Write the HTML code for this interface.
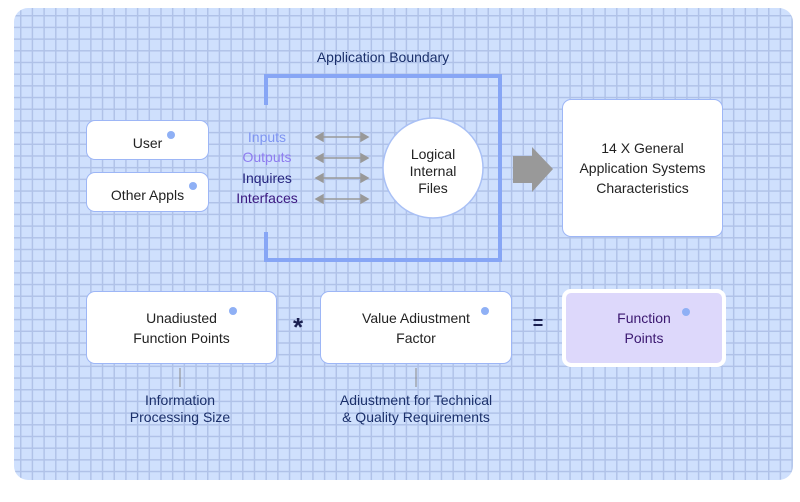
<!DOCTYPE html>
<html><head><meta charset="utf-8"><style>
body{margin:0;width:800px;height:502px;background:#fff;position:relative;overflow:hidden;font-family:"Liberation Sans",sans-serif}
.panel{position:absolute;left:14px;top:8px;width:779px;height:472px;border-radius:14px;background-color:#cfe0fd;
background-image:linear-gradient(#b0c2e8 1.5px,transparent 1.5px),linear-gradient(90deg,#b0c2e8 1.5px,transparent 1.5px);
background-size:11.7px 11.7px;background-position:6px 7px}
.box{position:absolute;background:#fff;border:1.5px solid #9db6f6;border-radius:9px;box-sizing:border-box;display:flex;align-items:center;justify-content:center;text-align:center;font-size:14px;color:#222;line-height:20px}
.dot{position:absolute;width:8px;height:8px;border-radius:50%;background:#8fb0f5}
.t{position:absolute;font-size:14px;white-space:nowrap;text-align:center}
</style></head><body>
<div class="panel"></div>
<svg width="800" height="502" style="position:absolute;left:0;top:0">
<path d="M266,105 V76 H500 V260 H266 V232" fill="none" stroke="#87a6f5" stroke-width="4"/>
<g stroke="#999" stroke-width="1.5" fill="#999">
<line x1="320" y1="137" x2="364" y2="137"/><path d="M316,137 l7,-4 v8z M368,137 l-7,-4 v8z"/>
<line x1="320" y1="158" x2="364" y2="158"/><path d="M316,158 l7,-4 v8z M368,158 l-7,-4 v8z"/>
<line x1="320" y1="178" x2="364" y2="178"/><path d="M316,178 l7,-4 v8z M368,178 l-7,-4 v8z"/>
<line x1="320" y1="199" x2="364" y2="199"/><path d="M316,199 l7,-4 v8z M368,199 l-7,-4 v8z"/>
</g>
<circle cx="433" cy="168" r="50" fill="#fff" stroke="#a9c0f5" stroke-width="1.5"/>
<path d="M513,156 H532 V147 L553,169 L532,192 V183 H513Z" fill="#999"/>
<line x1="180" y1="368" x2="180" y2="387" stroke="#888" stroke-width="1"/>
<line x1="416" y1="368" x2="416" y2="387" stroke="#888" stroke-width="1"/>
</svg>
<div class="t" style="left:283px;top:49px;width:200px;color:#1a2f6a">Application Boundary</div>
<div class="box" style="left:86px;top:120px;width:123px;height:40px;padding-top:5px">User</div><div class="dot" style="left:167px;top:131px"></div>
<div class="box" style="left:86px;top:172px;width:123px;height:40px;padding-top:5px">Other Appls</div><div class="dot" style="left:189px;top:182px"></div>
<div class="t" style="left:217px;top:129px;width:100px;color:#7f95f2">Inputs</div>
<div class="t" style="left:217px;top:149px;width:100px;color:#8e7cf0">Outputs</div>
<div class="t" style="left:217px;top:170px;width:100px;color:#25247e">Inquires</div>
<div class="t" style="left:217px;top:190px;width:100px;color:#3b1880">Interfaces</div>
<div class="t" style="left:383px;top:146px;width:100px;color:#222;line-height:17px">Logical<br>Internal<br>Files</div>
<div class="box" style="left:562px;top:99px;width:161px;height:138px">14 X General<br>Application Systems<br>Characteristics</div>
<div class="box" style="left:86px;top:291px;width:191px;height:73px">Unadiusted<br>Function Points</div><div class="dot" style="left:229px;top:307px"></div>
<div class="t" style="left:288px;top:312px;width:20px;font-size:26px;font-weight:bold;color:#1a2050">*</div>
<div class="box" style="left:320px;top:291px;width:192px;height:73px">Value Adiustment<br>Factor</div><div class="dot" style="left:481px;top:307px"></div>
<div class="t" style="left:528px;top:313px;width:20px;font-size:18px;font-weight:bold;color:#1a2050">=</div>
<div class="box" style="left:562px;top:289px;width:164px;height:78px;background:#ddd8fb;border:4px solid #fff;color:#3b1870">Function<br>Points</div><div class="dot" style="left:682px;top:308px"></div>
<div class="t" style="left:100px;top:392px;width:160px;line-height:17px;color:#1a2f6a">Information<br>Processing Size</div>
<div class="t" style="left:316px;top:392px;width:200px;line-height:17px;color:#1a2f6a">Adiustment for Technical<br>&amp; Quality Requirements</div>
</body></html>
